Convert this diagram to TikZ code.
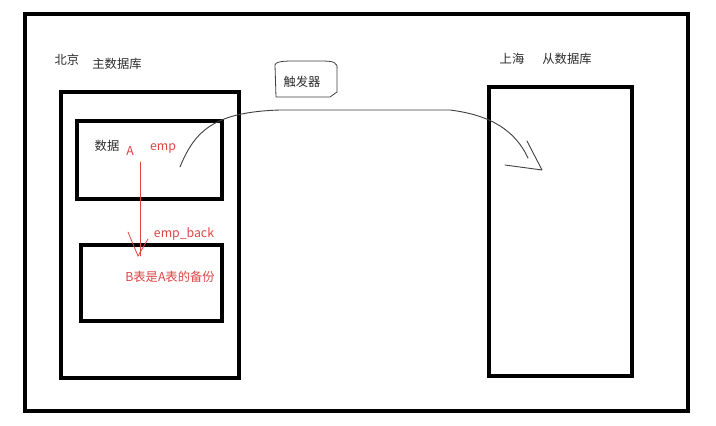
\documentclass[tikz,border=0pt]{standalone}
\usepackage{fontspec}
\setmainfont{Noto Sans CJK SC}
\definecolor{pinkred}{RGB}{222,70,70}
\definecolor{inkgray}{RGB}{45,45,45}
\begin{document}
\begin{tikzpicture}[x=1pt,y=-1pt,
  thickbox/.style={draw=black,line width=3.2pt},
  lbl/.style={font=\fontsize{12.3}{14}\selectfont,inner sep=0pt,anchor=center,text=inkgray},
  redlbl/.style={lbl,text=pinkred},
  pen/.style={draw=black!75,line width=0.9pt,line cap=round,line join=round},
  redpen/.style={draw=pinkred,line width=0.8pt,line cap=round}]
\useasboundingbox (0,0) rectangle (716,426);
\fill[white] (0,0) rectangle (716,426);
% frames
\draw[thickbox] (25,14) rectangle (688,411);
\node[thickbox,minimum width=178pt,minimum height=286pt,inner sep=0pt] (bj) at (150,235) {};
\node[thickbox,minimum width=145pt,minimum height=78pt,inner sep=0pt] (ta) at (149.5,160) {};
\node[thickbox,minimum width=141pt,minimum height=76pt,inner sep=0pt] (tb) at (151.5,283) {};
\node[thickbox,minimum width=143pt,minimum height=289pt,inner sep=0pt] (sh) at (560.5,231.5) {};
% trigger box
\node[minimum width=62pt,minimum height=37pt,inner sep=0pt] (tr) at (306,78) {};
\draw[pen,line width=0.8pt] (276,97) -- (275,65) .. controls (276,60) and (290,61) .. (320,61) .. controls (334,61) and (338,62) .. (337,70) -- (337,92) -- (330,97) -- cycle;
% labels
\node[lbl] (bjt) at (67,60) {北京};
\node[lbl] (bjs) at (117,64) {主数据库};
\node[lbl] (sht) at (512,59) {上海};
\node[lbl] (shs) at (567,59) {从数据库};
\node[lbl] (trt) at (302,82) {触发器};
\node[lbl] (dat) at (107,146) {数据};
\node[redlbl] (aa) at (130,151) {A};
\node[redlbl] (emp) at (163,148) {emp};
\node[redlbl] (empb) at (184,234) {emp\_back};
\node[redlbl] (bt) at (170,277) {B表是A表的备份};
% red arrow
\coordinate (rs) at (140,162);
\coordinate (re) at (140,256);
\draw[redpen] (rs) -- (re);
\draw[redpen] (128,232) -- (138,256) -- (148,239);
% trigger curve
\coordinate (cs) at (180,167);
\coordinate (ce) at (528,158);
\draw[pen] (cs) .. controls (195,130) and (215,112) .. (280,110) -- (450,110) .. controls (490,115) and (515,130) .. (ce);
\draw[pen] (505,165) -- (542,170) -- (527,141);
\end{tikzpicture}
\end{document}
